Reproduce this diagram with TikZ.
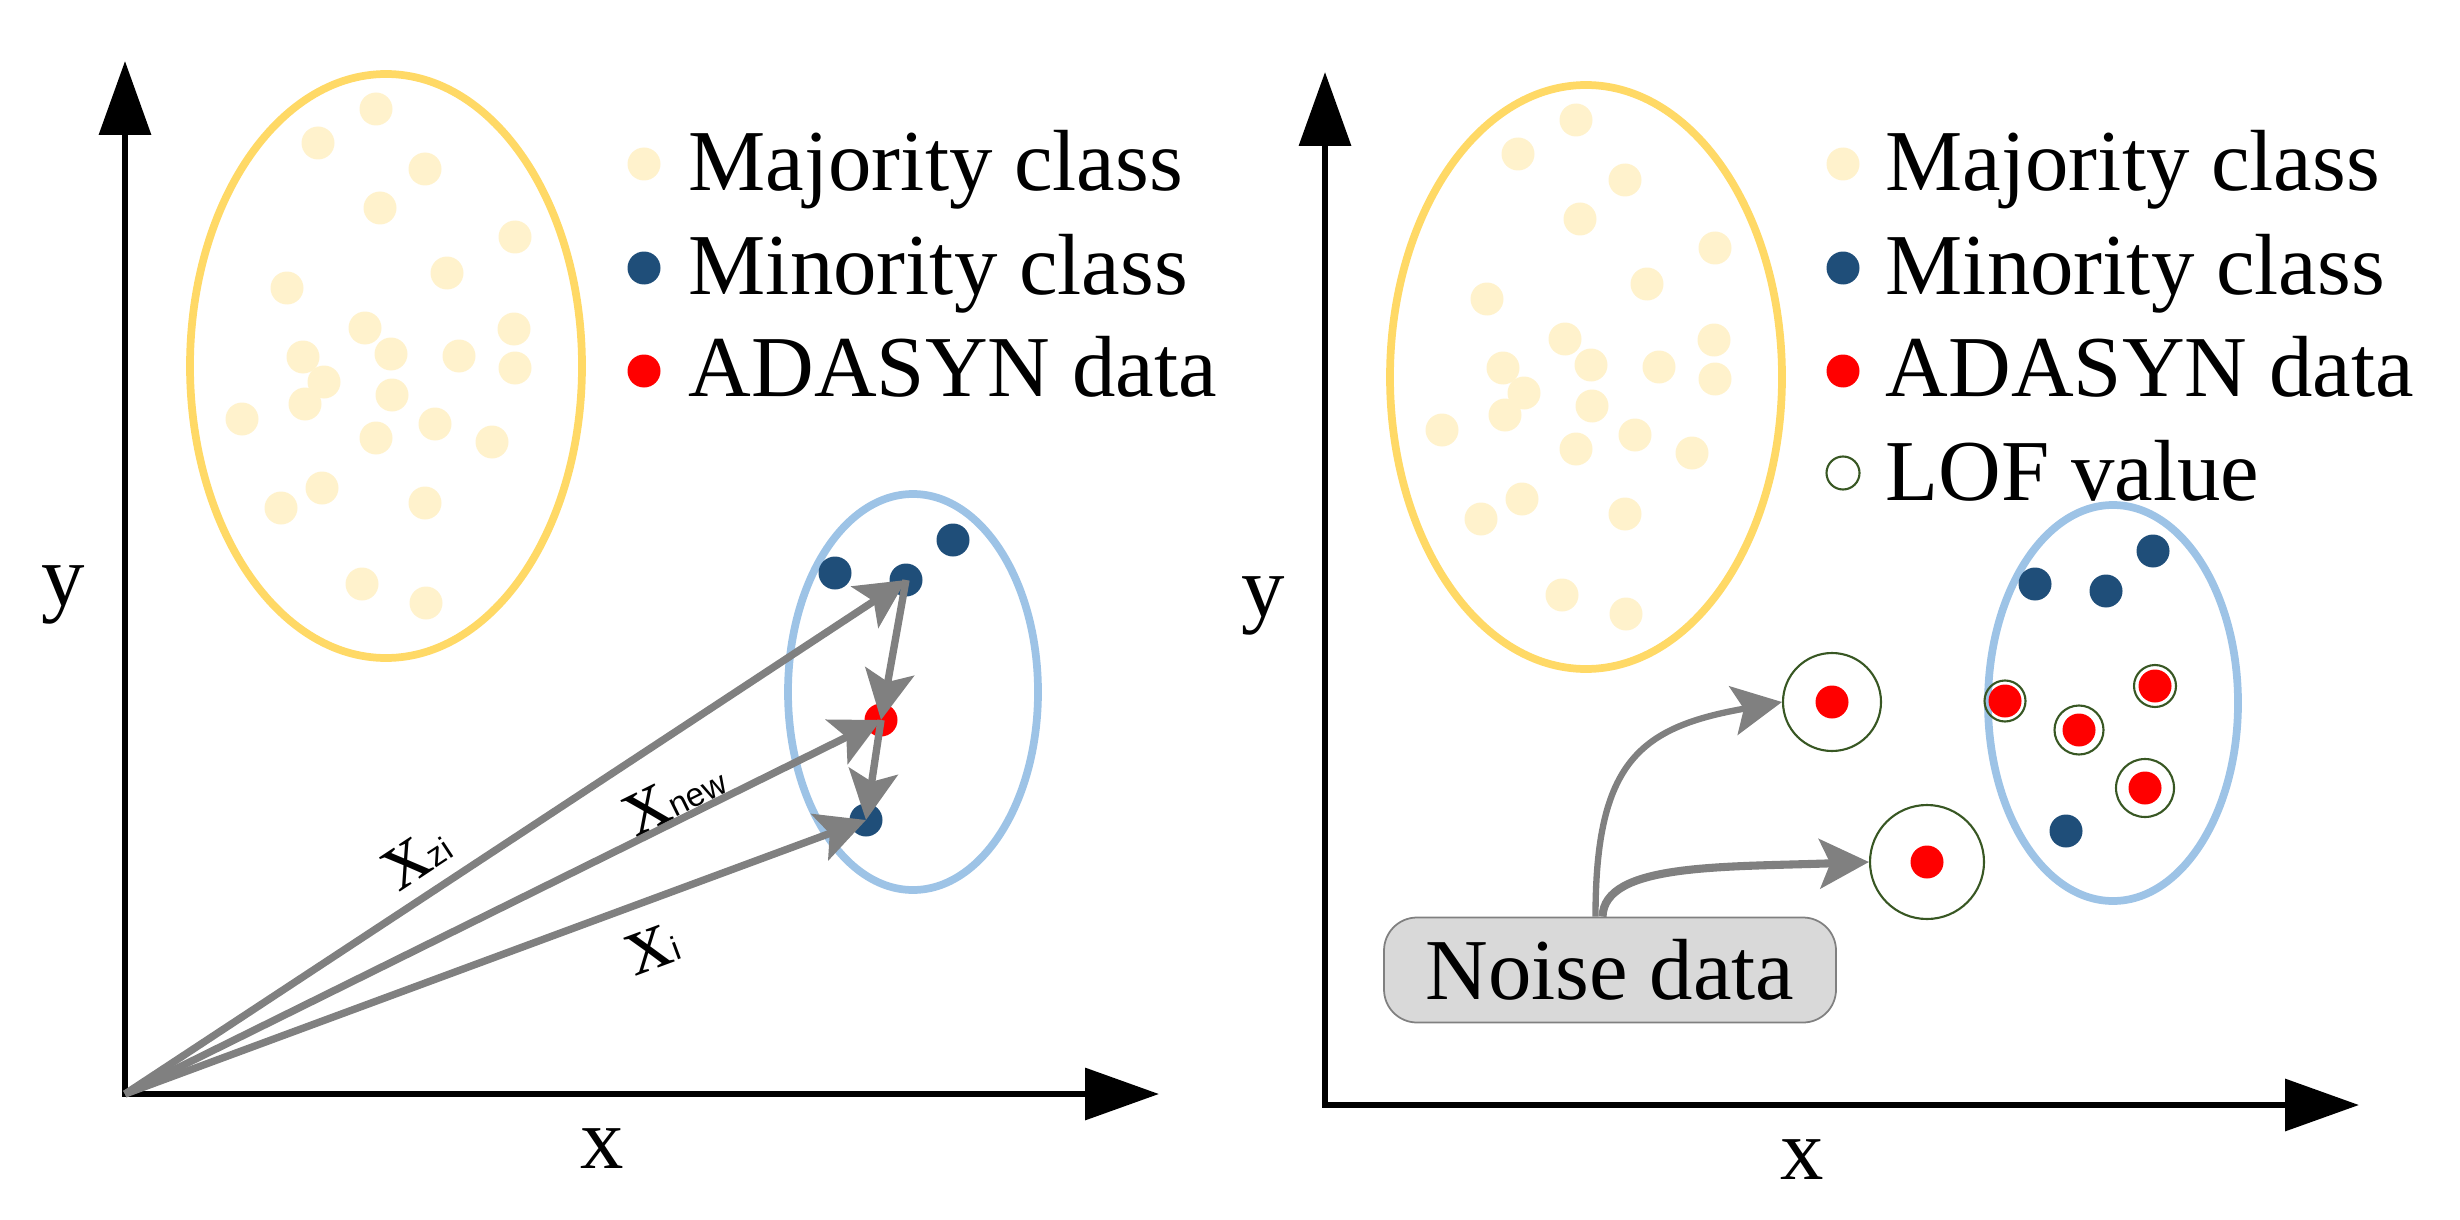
\documentclass[tikz,border=0pt]{standalone}
\usepackage{fontspec}
\setmainfont{Liberation Serif}
\newfontfamily\subfont{Liberation Sans}
\usetikzlibrary{arrows.meta}

\definecolor{majfill}{HTML}{FFF2CC}
\definecolor{majline}{HTML}{FFD966}
\definecolor{minfill}{HTML}{1F4E79}
\definecolor{minline}{HTML}{9DC3E6}
\definecolor{lofline}{HTML}{385723}
\definecolor{noisefill}{HTML}{D9D9D9}

\newcommand{\bigfont}{\fontsize{24.7}{29}\selectfont}
\newcommand{\subtxt}[1]{{\subfont\fontsize{9.4}{11}\selectfont #1}}

\begin{document}
\begin{tikzpicture}[x=0.1mm, y=-0.1mm, font=\bigfont,
  dot/.style={circle, inner sep=0pt, minimum size=3.3mm},
  maj/.style={dot, fill=majfill},
  mino/.style={dot, fill=minfill},
  ada/.style={dot, fill=red},
  lof/.style={circle, draw=lofline, line width=0.6pt, inner sep=0pt},
  axis/.style={line width=1.8pt, {Triangle[length=21pt, width=14.5pt]}-{Triangle[length=21pt, width=14.5pt]}},
  vec/.style={draw=gray, line width=2.1pt, -{Stealth[length=14pt, width=14pt, inset=3pt]}},
  legend/.style={anchor=base west, inner sep=0pt}]
\useasboundingbox (0,0) rectangle (2460,1220);

% both panels: axes, clusters
\foreach \pn/\dx/\dy in {l/0/0, r/1200/11} {
  \begin{scope}[shift={(\dx,\dy)}]
    \coordinate (o\pn) at (125,1094);
    \coordinate (ytip\pn) at (125,61);
    \coordinate (xtip\pn) at (1159,1094);
    \draw[axis] (ytip\pn) -- (o\pn) -- (xtip\pn);
    \node[anchor=base] (ylab\pn) at (63,605) {y};
    \node[anchor=base] (xlab\pn) at (602,1168) {x};

    \draw[majline, line width=2.2pt] (386,366) ellipse [x radius=196, y radius=292];
    \draw[minline, line width=2.2pt] (913,692) ellipse [x radius=125, y radius=198];

    \foreach \mx/\my [count=\i] in {376/109, 318/143, 425/169, 380/208, 515/237,
        447/273, 287/288, 365/328, 514/329, 303/357, 391/354, 459/356, 515/368,
        324/382, 392/395, 305/404, 242/419, 435/424, 376/438, 492/442, 322/488,
        281/508, 425/503, 362/584, 426/603}
      \node[maj] (maj\pn\i) at (\mx,\my) {};

    \node[mino] (mi1\pn) at (835,573) {};
    \node[mino] (mi2\pn) at (906,580) {};
    \node[mino] (mi3\pn) at (953,540) {};
    \node[mino] (mi4\pn) at (866,820) {};
  \end{scope}
}

% left: legend
\node[maj] (lg1l) at (644,164) {};
\node[mino] (lg2l) at (644,268) {};
\node[ada] (lg3l) at (644,371) {};
\node[legend] (t1l) at (688,191) {Majority class};
\node[legend] (t2l) at (688,294) {Minority class};
\node[legend] (t3l) at (688,396) {ADASYN data};

% left: interpolation
\node[ada] (adl) at (881,720) {};
\draw[vec] (ol) -- node[pos=0.4, sloped, above, inner sep=4pt] {x\subtxt{zi}} (mi2l.center);
\draw[vec] (ol) -- node[pos=0.74, sloped, anchor=base, yshift=1pt] {x\subtxt{new}} (adl.center);
\draw[vec] (ol) -- node[pos=0.69, sloped, below, inner sep=6.5pt] {x\subtxt{i}} (mi4l.center);
\draw[vec] (mi2l.center) -- (adl.center);
\draw[vec] (adl.center) -- (mi4l.center);

% right: legend
\node[maj] (lg1r) at (1843,164) {};
\node[mino] (lg2r) at (1843,268) {};
\node[ada] (lg3r) at (1843,371) {};
\node[lof, fill=white, minimum size=3.3mm] (lg4r) at (1843,473) {};
\node[legend] (t1r) at (1885,191) {Majority class};
\node[legend] (t2r) at (1885,294) {Minority class};
\node[legend] (t3r) at (1885,396) {ADASYN data};
\node[legend] (t4r) at (1885,500) {LOF value};

% right: ADASYN data with LOF
\node[ada] (a1r) at (2005,701) {};
\node[ada] (a2r) at (2155,686) {};
\node[ada] (a3r) at (2079,730) {};
\node[ada] (a4r) at (2145,788) {};
\node[lof, minimum size=4.1mm] (l1r) at (a1r) {};
\node[lof, minimum size=4.2mm] (l2r) at (a2r) {};
\node[lof, minimum size=4.9mm] (l3r) at (a3r) {};
\node[lof, minimum size=5.8mm] (l4r) at (a4r) {};

% right: noise
\node[ada] (n1r) at (1832,702) {};
\node[ada] (n2r) at (1927,862) {};
\node[lof, minimum size=9.8mm] (nz1) at (n1r) {};
\node[lof, minimum size=11.4mm] (nz2) at (n2r) {};
\node[draw=gray, fill=noisefill, line width=0.5pt, rounded corners=3.3mm,
  minimum width=45.2mm, minimum height=10.5mm, inner sep=0pt] (noise) at (1610,970) {Noise data};
\draw[vec, line width=1.8pt] ([xshift=-1.45mm]noise.north)
  to[out=90, in=190, out looseness=1.4, in looseness=1.3] (nz1.west);
\draw[vec, line width=2.3pt] ([xshift=-0.75mm]noise.north)
  to[out=88, in=182, out looseness=0.5, in looseness=1.4] (nz2.west);
\end{tikzpicture}
\end{document}
